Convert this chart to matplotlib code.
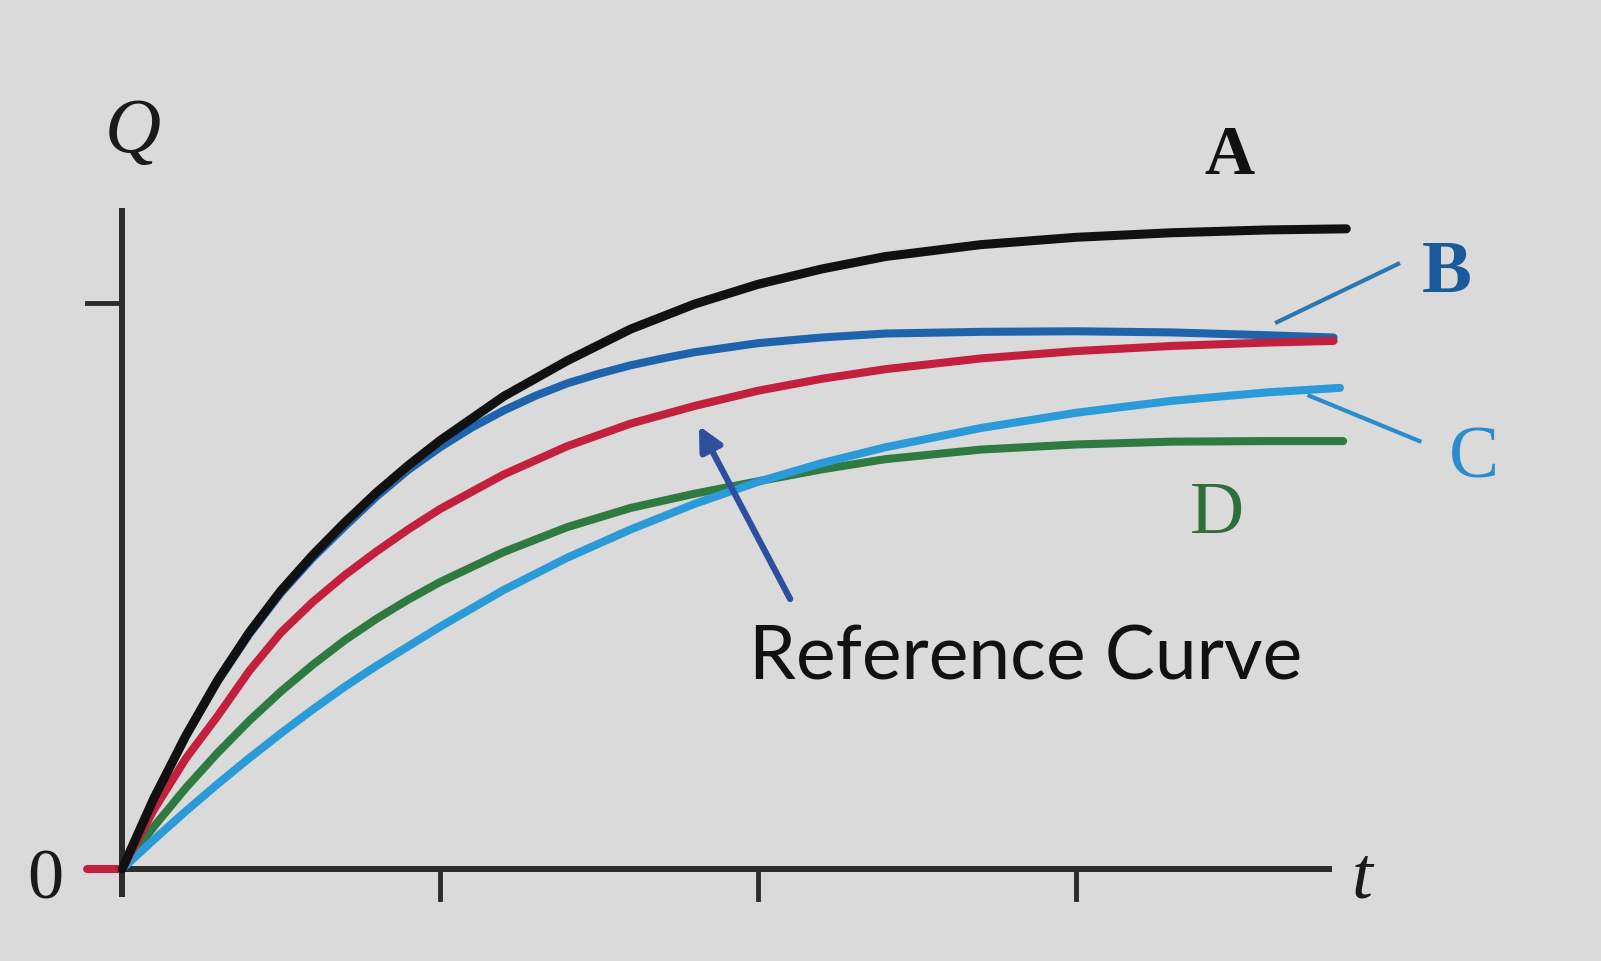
import numpy as np
import matplotlib.pyplot as plt

# values (t along the bottom, Q up the side)
t_a = [0, .1, .2, .3, .4, .5, .6, .7, .8, .9, 1.0, 1.2, 1.4, 1.6, 1.8, 2.0, 2.2, 2.4, 2.7, 3.0, 3.3, 3.6, 3.85]
q_a = [0, .125, .235, .333, .418, .492, .555, .612, .665, .713, .757, .835, .898, .954, .998, 1.033, 1.060, 1.082, 1.103, 1.116, 1.124, 1.129, 1.131]

t_b = [0, .1, .2, .3, .4, .5, .6, .7, .8, .9, 1.0, 1.1, 1.2, 1.3, 1.4, 1.5, 1.6, 1.7, 1.8, 2.0, 2.2, 2.4, 2.7, 3.0, 3.3, 3.6, 3.81]
q_b = [0, .125, .234, .331, .415, .488, .550, .605, .658, .705, .745, .780, .810, .836, .858, .875, .890, .902, .913, .929, .939, .946, .949, .950, .948, .943, .939]

t_ref = [-0.11, 0, .1, .2, .3, .4, .5, .6, .7, .8, .9, 1.0, 1.2, 1.4, 1.6, 1.8, 2.0, 2.2, 2.4, 2.7, 3.0, 3.3, 3.6, 3.81]
q_ref = [0, 0, .105, .195, .270, .350, .418, .472, .519, .561, .600, .636, .697, .747, .787, .818, .845, .866, .883, .902, .915, .924, .930, .933]

t_c = [0, .1, .2, .3, .4, .5, .6, .7, .8, 1.0, 1.2, 1.4, 1.6, 1.8, 2.0, 2.2, 2.4, 2.7, 3.0, 3.3, 3.6, 3.83]
q_c = [0, .052, .102, .150, .196, .240, .282, .322, .359, .428, .493, .550, .600, .645, .684, .717, .745, .779, .806, .827, .842, .850]

t_d = [0, .1, .2, .3, .4, .5, .6, .7, .8, .9, 1.0, 1.2, 1.4, 1.6, 1.8, 2.0, 2.2, 2.4, 2.7, 3.0, 3.3, 3.6, 3.84]
q_d = [0, .075, .143, .205, .262, .314, .361, .404, .442, .476, .507, .560, .604, .638, .663, .685, .706, .724, .741, .750, .755, .756, .756]

x_ticks = [1, 2, 3]
y_ticks = [1]

fig = plt.figure(figsize=(16.01, 9.62), dpi=100)
fig.patch.set_facecolor("#d9dad9")
ax = fig.add_axes([0, 0, 1, 1])
ax.set_facecolor("#d9dad9")
ax.set_xlim(-0.384, 4.651)
ax.set_ylim(-0.1625, 1.537)
ax.axis("off")

# axes drawn by hand, like the textbook sketch
axis_col = "#2b2b2b"
ax.plot([-0.01, 3.805], [0, 0], color=axis_col, lw=4.3, solid_capstyle="butt")
ax.plot([0, 0], [-0.05, 1.168], color=axis_col, lw=4.3, solid_capstyle="butt")
for tk in x_ticks:
    ax.plot([tk, tk], [0, -0.053], color=axis_col, lw=3.5)
for tk in y_ticks:
    ax.plot([-0.11, 0], [tk, tk], color=axis_col, lw=3.5)

# the curves
ax.plot(t_d, q_d, color="#2f7a40", lw=5.8, solid_capstyle="round", solid_joinstyle="round")
ax.plot(t_c, q_c, color="#2b9ad8", lw=5.8, solid_capstyle="round", solid_joinstyle="round")
ax.plot(t_b, q_b, color="#1f63ad", lw=5.8, solid_capstyle="round", solid_joinstyle="round")
ax.plot(t_ref, q_ref, color="#c2203c", lw=5.8, solid_capstyle="round", solid_joinstyle="round")
ax.plot(t_a, q_a, color="#111111", lw=6.5, solid_capstyle="round", solid_joinstyle="round")

# leader lines for B and C
ax.plot([3.632, 4.013], [0.966, 1.069], color="#2a78b0", lw=3)
ax.plot([3.734, 4.080], [0.836, 0.756], color="#2a8ccc", lw=3)

# labels
serif = "Liberation Serif"
ax.text(3.484, 1.259, "A", color="#111111", fontsize=50, fontweight="bold", family=serif, ha="center", va="center")
ax.text(4.167, 1.053, "B", color="#1a5a9a", fontsize=54, fontweight="bold", family=serif, ha="center", va="center")
ax.text(4.252, 0.724, "C", color="#2a8ccc", fontsize=54, family=serif, ha="center", va="center")
ax.text(3.443, 0.626, "D", color="#2e6e3a", fontsize=54, family=serif, ha="center", va="center")
ax.text(0.035, 1.302, "Q", color="#1a1a1a", fontsize=56, style="italic", family=serif, ha="center", va="center")
ax.text(3.90, -0.018, "t", color="#1a1a1a", fontsize=54, style="italic", family=serif, ha="center", va="center")
ax.text(-0.24, -0.02, "0", color="#1a1a1a", fontsize=52, family=serif, ha="center", va="center")

# arrow pointing at the reference curve
ax.annotate("", xy=(1.814, 0.783), xytext=(2.101, 0.477),
            arrowprops=dict(arrowstyle="-|>", lw=4.5, color="#2d4f9e", mutation_scale=36, shrinkA=0, shrinkB=0))
ax.text(2.843, 0.375, "Reference Curve", color="#111111", fontsize=54, family="Lato", ha="center", va="center")

plt.savefig("out.png", dpi=100, facecolor=fig.get_facecolor())
